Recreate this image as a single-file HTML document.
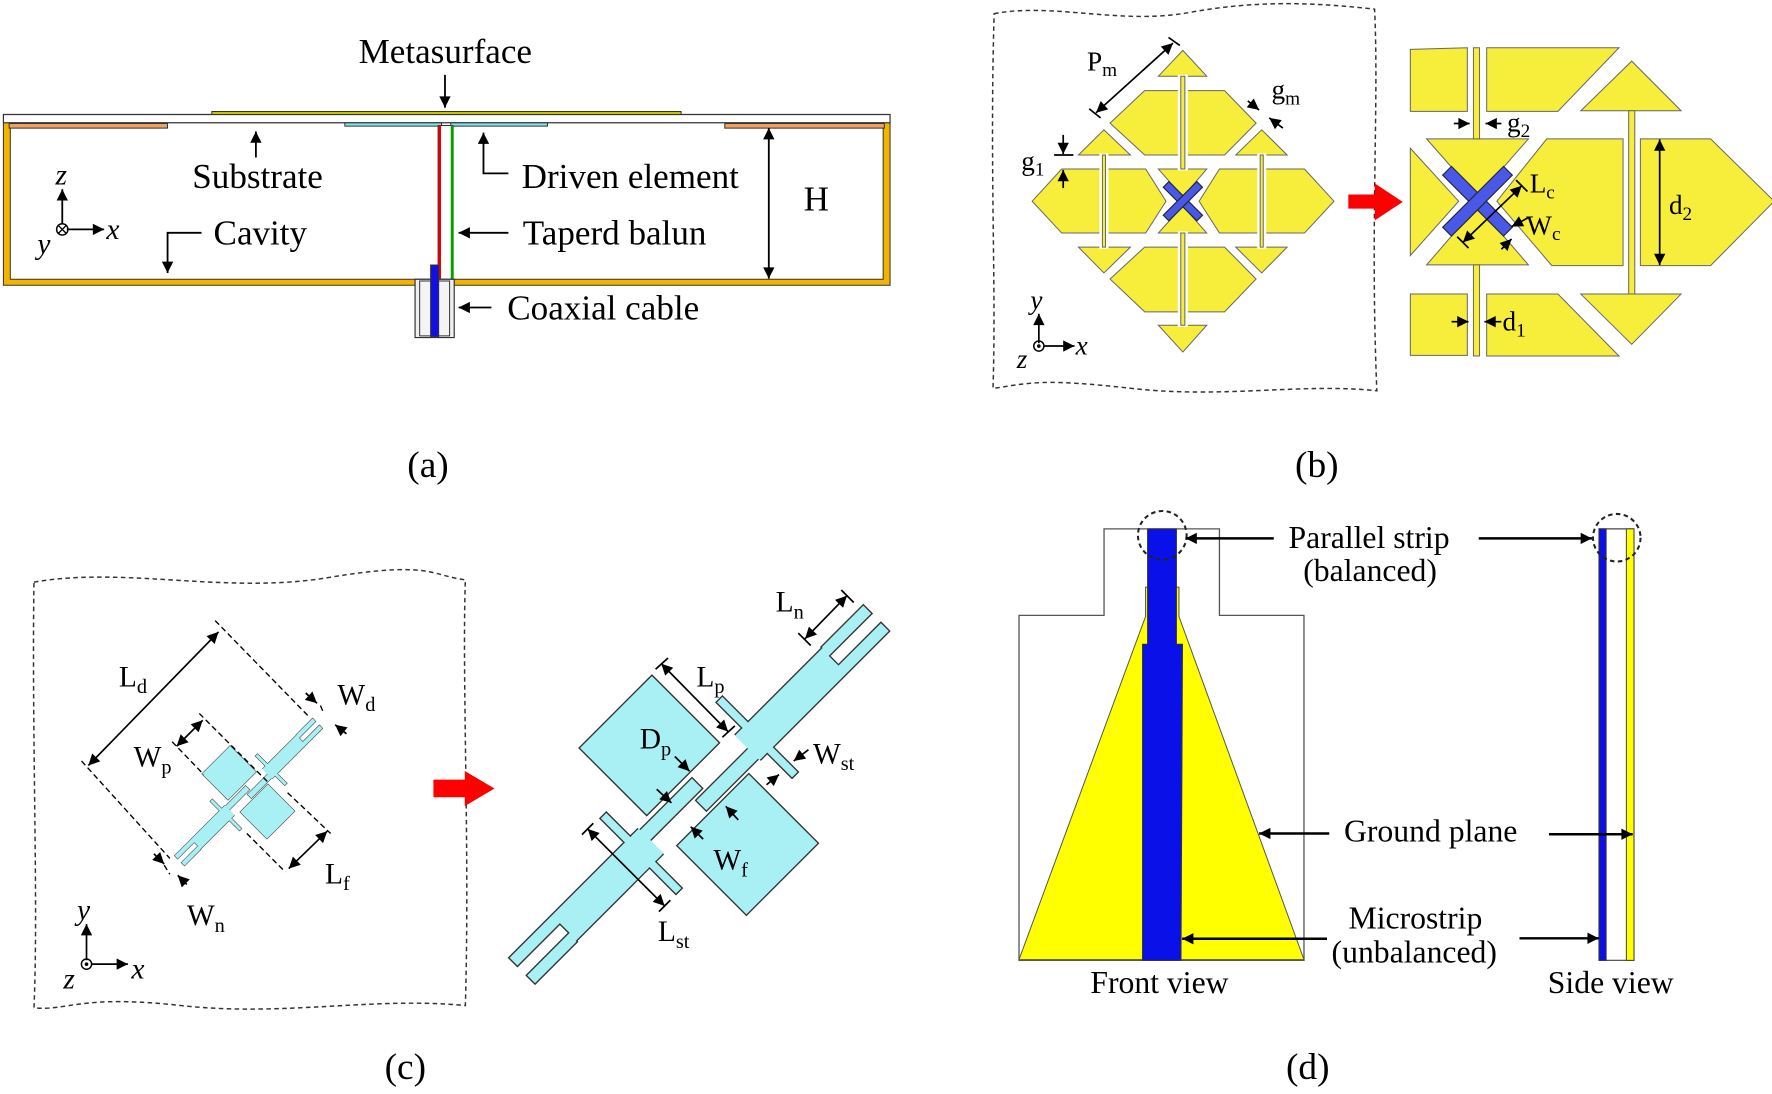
<!DOCTYPE html>
<html><head><meta charset="utf-8"><style>
html,body{margin:0;padding:0;background:#fff;}
svg{display:block;}
text{font-family:"Liberation Serif",serif;fill:#000;}
</style></head><body>
<svg width="1772" height="1094" viewBox="0 0 1565 966" xmlns="http://www.w3.org/2000/svg">
<defs>
<marker id="ah" viewBox="0 0 10 10" refX="10" refY="5" markerUnits="userSpaceOnUse" markerWidth="12" markerHeight="10" orient="auto-start-reverse"><path d="M0,0 L10,5 L0,10 z" fill="#000"/></marker>
<g id="dip">
 <g fill="#a8f0f4" stroke="#333" stroke-width="1.2">
  <rect x="-46" y="-104" width="91" height="84.5"/>
  <rect x="-46" y="18" width="90" height="87"/>
  <path d="M60,-15 L168,-15 L168,-16 L221,-16 L221,-5 L168,-5 L168,6 L221,6 L221,17 L60,17 Z"/>
  <path d="M-60,15 L-168,15 L-168,16 L-221,16 L-221,5 L-168,5 L-168,-6 L-221,-6 L-221,-17 L-60,-17 Z"/>
  <rect x="-6" y="1.5" width="66" height="13.5"/>
  <rect x="-60" y="-15" width="66" height="13.5"/>
  <rect x="68" y="-47" width="8" height="95"/>
  <rect x="-77" y="-47" width="8" height="95"/>
 </g>
 <g fill="#a8f0f4">
  <rect x="59" y="-14.3" width="20" height="30.6"/>
  <rect x="-79" y="-16.3" width="20" height="30.6"/>
  <rect x="67.5" y="-14.3" width="9" height="30.6"/>
 </g>
</g>
</defs>

<!-- ===== (a) ===== -->
<g transform="matrix(0.5085 0 0 0.294 0.46 -0.4)" stroke="#333" vector-effect="non-scaling-stroke">
 <rect x="5" y="345" width="1540" height="25" fill="#fff" stroke-width="1.2" vector-effect="non-scaling-stroke"/>
 <rect x="367" y="336" width="815" height="9" fill="#c8c400" stroke-width="1" vector-effect="non-scaling-stroke"/>
 <rect x="5" y="370" width="1540" height="488" fill="#f2b400" stroke-width="1" vector-effect="non-scaling-stroke"/>
 <rect x="17" y="370" width="1516" height="470" fill="#fff" stroke-width="1" vector-effect="non-scaling-stroke"/>
 <rect x="15" y="372" width="275" height="14" fill="#f0a060" stroke-width="1" vector-effect="non-scaling-stroke"/>
 <rect x="1258" y="372" width="277" height="14" fill="#f0a060" stroke-width="1" vector-effect="non-scaling-stroke"/>
 <rect x="598" y="370" width="168" height="10" fill="#80e4f0" stroke-width="1" vector-effect="non-scaling-stroke"/>
 <rect x="782" y="370" width="168" height="10" fill="#80e4f0" stroke-width="1" vector-effect="non-scaling-stroke"/>
 <rect x="760" y="378" width="26" height="462" fill="#fff" stroke-width="1" vector-effect="non-scaling-stroke"/>
 <rect x="760" y="378" width="5" height="462" fill="#e00000" stroke="none"/>
 <rect x="782" y="378" width="5" height="462" fill="#00a000" stroke="none"/>
 <rect x="720" y="840" width="68" height="175" fill="#f0f0f0" stroke-width="1.2" vector-effect="non-scaling-stroke"/>
 <rect x="728" y="845" width="52" height="165" fill="#f4f4f4" stroke-width="1" vector-effect="non-scaling-stroke"/>
 <rect x="747" y="797" width="14" height="215" fill="#1010e0" stroke-width="1" vector-effect="non-scaling-stroke"/>
</g>
<g stroke="#000" stroke-width="1.6" fill="none">
 <line x1="393" y1="66" x2="393" y2="95" marker-end="url(#ah)"/>
 <line x1="226" y1="139" x2="226" y2="116" marker-end="url(#ah)"/>
 <polyline points="449,153 427,153 427,117" marker-end="url(#ah)"/>
 <line x1="679" y1="113" x2="679" y2="246" marker-start="url(#ah)" marker-end="url(#ah)"/>
 <line x1="449" y1="205.5" x2="405" y2="205.5" marker-end="url(#ah)"/>
 <polyline points="178,205.5 148,205.5 148,241" marker-end="url(#ah)"/>
 <line x1="434" y1="271.5" x2="405" y2="271.5" marker-end="url(#ah)"/>
 <line x1="55" y1="198" x2="55" y2="167" marker-end="url(#ah)"/>
 <line x1="59" y1="202.5" x2="92" y2="202.5" marker-end="url(#ah)"/>
 <circle cx="55" cy="202.5" r="5" stroke-width="1.3"/>
 <path d="M51.5,199 L58.5,206 M58.5,199 L51.5,206" stroke-width="1.2"/>
</g>
<g font-size="31">
 <text x="316.7" y="55.5">Metasurface</text>
 <text x="169.8" y="166">Substrate</text>
 <text x="460.7" y="166">Driven element</text>
 <text x="461.7" y="216">Taperd balun</text>
 <text x="188.6" y="216">Cavity</text>
 <text x="448" y="282">Coaxial cable</text>
 <text x="709.8" y="186">H</text>
 <text x="49" y="163" font-size="26" font-style="italic">z</text>
 <text x="94" y="211" font-size="26" font-style="italic">x</text>
 <text x="33" y="224" font-size="26" font-style="italic">y</text>
 <text x="378" y="421" font-size="33" text-anchor="middle">(a)</text>
</g>

<!-- ===== (b) ===== -->
<path d="M878,12 C930,2 990,22 1050,11 S1160,2 1214,8 C1218,90 1210,200 1216,345 C1150,338 1080,352 1000,343 S910,338 877,343 C880,250 874,150 878,12 Z" fill="none" stroke="#333" stroke-width="1.3" stroke-dasharray="4,3"/>
<g transform="matrix(0.4495 0 0 0.296 868 0.6)" fill="#f6ee3a" stroke="#666" stroke-width="1" >
 <g vector-effect="non-scaling-stroke">
 <polygon points="393,148 440,225 345,225" vector-effect="non-scaling-stroke"/>
 <polygon points="318,268 475,268 537,365 475,460 318,460 250,365" vector-effect="non-scaling-stroke"/>
 <polygon points="238,385 290,460 188,460" vector-effect="non-scaling-stroke"/>
 <polygon points="548,385 598,460 497,460" vector-effect="non-scaling-stroke"/>
 <polygon points="155,502 320,502 360,598 320,693 155,693 97,598" vector-effect="non-scaling-stroke"/>
 <polygon points="465,502 632,502 690,598 632,693 465,693 425,598" vector-effect="non-scaling-stroke"/>
 <polygon points="345,502 440,502 393,585" vector-effect="non-scaling-stroke"/>
 <polygon points="393,612 440,693 345,693" vector-effect="non-scaling-stroke"/>
 <polygon points="188,735 290,735 238,812" vector-effect="non-scaling-stroke"/>
 <polygon points="497,735 598,735 548,812" vector-effect="non-scaling-stroke"/>
 <polygon points="318,735 475,735 537,830 475,928 318,928 250,830" vector-effect="non-scaling-stroke"/>
 <polygon points="345,968 440,968 393,1048" vector-effect="non-scaling-stroke"/>
 <rect x="386" y="225" width="14" height="277" stroke="#fff" stroke-width="3" vector-effect="non-scaling-stroke"/>
 <rect x="386" y="693" width="14" height="275" stroke="#fff" stroke-width="3" vector-effect="non-scaling-stroke"/>
 <rect x="232" y="460" width="12" height="275" stroke="#fff" stroke-width="3" vector-effect="non-scaling-stroke"/>
 <rect x="542" y="460" width="12" height="275" stroke="#fff" stroke-width="3" vector-effect="non-scaling-stroke"/>
 <rect x="389" y="225" width="8" height="277" stroke="#666" vector-effect="non-scaling-stroke"/>
 <rect x="389" y="693" width="8" height="275" stroke="#666" vector-effect="non-scaling-stroke"/>
 <rect x="235" y="460" width="6" height="275" stroke="#666" vector-effect="non-scaling-stroke"/>
 <rect x="545" y="460" width="6" height="275" stroke="#666" vector-effect="non-scaling-stroke"/>

 <polygon points="840,145 952,140 952,330 840,330" vector-effect="non-scaling-stroke"/>
 <polygon points="990,140 1250,140 1130,330 990,330" vector-effect="non-scaling-stroke"/>
 <polygon points="1275,180 1372,328 1175,328" vector-effect="non-scaling-stroke"/>
 <polygon points="1175,875 1372,875 1275,1025" vector-effect="non-scaling-stroke"/>
 <polygon points="872,412 1072,412 972,585" vector-effect="non-scaling-stroke"/>
 <polygon points="972,612 1072,788 872,788" vector-effect="non-scaling-stroke"/>
 <polygon points="840,440 935,598 840,760" vector-effect="non-scaling-stroke"/>
 <polygon points="1108,412 1258,412 1258,790 1118,790 1010,598" vector-effect="non-scaling-stroke"/>
 <polygon points="1292,412 1430,412 1555,598 1430,790 1292,790" vector-effect="non-scaling-stroke"/>
 <polygon points="840,875 952,875 952,1058 840,1058" vector-effect="non-scaling-stroke"/>
 <polygon points="990,875 1130,875 1250,1060 990,1060" vector-effect="non-scaling-stroke"/>
 <rect x="964" y="140" width="12" height="272" vector-effect="non-scaling-stroke"/>
 <rect x="964" y="788" width="12" height="272" vector-effect="non-scaling-stroke"/>
 <rect x="1269" y="328" width="12" height="547" vector-effect="non-scaling-stroke"/>
 </g>
</g>
<g fill="#4a58e8" stroke="#223" stroke-width="1">
 <g transform="translate(1044.7,177.6)"><rect x="-21" y="-3.5" width="42" height="7" transform="rotate(45)"/><rect x="-21" y="-3.5" width="42" height="7" transform="rotate(-45)"/></g>
 <g transform="translate(1304.9,177.6)"><rect x="-38" y="-5.5" width="76" height="11" transform="rotate(45)"/><rect x="-38" y="-5.5" width="76" height="11" transform="rotate(-45)"/></g>
</g>
<polygon points="1190.8,171.7 1214.2,171.7 1214.2,161.9 1238.9,178.2 1214.2,194.5 1214.2,184.1 1190.8,184.1" fill="#f00"/>
<g stroke="#000" stroke-width="1.5" fill="none">
 <line x1="1036" y1="38" x2="968" y2="99.5" marker-start="url(#ah)" marker-end="url(#ah)"/>
 <line x1="1032" y1="33" x2="1042" y2="40"/><line x1="962" y1="96" x2="972" y2="104"/>
 <line x1="1102" y1="89" x2="1112" y2="97" marker-end="url(#ah)"/>
 <line x1="1133" y1="113" x2="1121" y2="104" marker-end="url(#ah)"/>
 <line x1="931" y1="136.8" x2="948" y2="136.8"/>
 <line x1="939" y1="119" x2="939" y2="136" marker-end="url(#ah)"/>
 <line x1="939" y1="166" x2="939" y2="150" marker-end="url(#ah)"/>
 <line x1="917.5" y1="303" x2="917.5" y2="277" marker-end="url(#ah)"/>
 <line x1="922" y1="305.5" x2="949" y2="305.5" marker-end="url(#ah)"/>
 <circle cx="917.5" cy="305.5" r="4.5" stroke-width="1.3"/>
 <line x1="1284" y1="109" x2="1298" y2="109" marker-end="url(#ah)"/>
 <line x1="1326" y1="109" x2="1312" y2="109" marker-end="url(#ah)"/>
 <line x1="1292" y1="214" x2="1344" y2="164" marker-start="url(#ah)" marker-end="url(#ah)"/>
 <line x1="1287" y1="209" x2="1297" y2="219"/><line x1="1339" y1="159" x2="1349" y2="169"/>
 <line x1="1350" y1="192" x2="1335" y2="200" marker-end="url(#ah)"/>
 <line x1="1326" y1="220" x2="1335" y2="211" marker-end="url(#ah)"/>
 <line x1="1465.8" y1="123" x2="1465.8" y2="234" marker-start="url(#ah)" marker-end="url(#ah)"/>
 <line x1="1282" y1="284" x2="1297" y2="284" marker-end="url(#ah)"/>
 <line x1="1326" y1="284" x2="1311" y2="284" marker-end="url(#ah)"/>
</g>
<circle cx="917.5" cy="305.5" r="1.6" fill="#000"/>
<g font-size="24">
 <text x="960" y="62">P<tspan font-size="17" dy="5">m</tspan></text>
 <text x="1123" y="87">g<tspan font-size="17" dy="5">m</tspan></text>
 <text x="902" y="150">g<tspan font-size="17" dy="5">1</tspan></text>
 <text x="1331" y="116">g<tspan font-size="17" dy="5">2</tspan></text>
 <text x="1351" y="170">L<tspan font-size="17" dy="5">c</tspan></text>
 <text x="1348" y="207">W<tspan font-size="17" dy="5">c</tspan></text>
 <text x="1474" y="189">d<tspan font-size="17" dy="5">2</tspan></text>
 <text x="1327" y="292">d<tspan font-size="17" dy="5">1</tspan></text>
 <text x="910" y="273" font-style="italic">y</text>
 <text x="950" y="313" font-style="italic">x</text>
 <text x="898" y="325" font-style="italic">z</text>
 <text x="1163" y="421" font-size="33" text-anchor="middle">(b)</text>
</g>

<!-- ===== (c) ===== -->
<path d="M30,514 C110,500 200,525 290,510 S380,508 411,512 C408,600 415,750 411,888 C330,880 250,898 160,888 S60,893 30,890 C34,800 28,650 30,514 Z" fill="none" stroke="#333" stroke-width="1.3" stroke-dasharray="4,3"/>
<use href="#dip" transform="translate(617.5,701.5) rotate(-45)"/>
<use href="#dip" transform="translate(219.5,699.4) rotate(-45) scale(0.39)"/>
<polygon points="382.8,688.5 410.5,688.5 410.5,680.8 436.7,696.3 410.5,711.8 410.5,704 382.8,704" fill="#f00"/>
<g stroke="#000" stroke-width="1.5" fill="none">
 <line x1="711" y1="564" x2="748" y2="526" marker-start="url(#ah)" marker-end="url(#ah)"/>
 <line x1="705" y1="559" x2="716" y2="570"/><line x1="743" y1="521" x2="754" y2="532"/>
 <line x1="584" y1="586" x2="643" y2="646" marker-start="url(#ah)" marker-end="url(#ah)"/>
 <line x1="579" y1="591" x2="590" y2="581"/><line x1="638" y1="651" x2="649" y2="641"/>
 <line x1="596" y1="668" x2="609" y2="681" marker-end="url(#ah)"/>
 <line x1="580" y1="697" x2="593" y2="709" marker-end="url(#ah)"/>
 <line x1="714" y1="662" x2="701" y2="672" marker-end="url(#ah)"/>
 <line x1="677" y1="693" x2="688" y2="684" marker-end="url(#ah)"/>
 <line x1="652" y1="724" x2="641" y2="712" marker-end="url(#ah)"/>
 <line x1="621" y1="741" x2="610" y2="730" marker-end="url(#ah)"/>
 <line x1="519" y1="732" x2="587" y2="800" marker-start="url(#ah)" marker-end="url(#ah)"/>
 <line x1="514" y1="737" x2="524" y2="727"/><line x1="582" y1="805" x2="592" y2="795"/>

 <line x1="193" y1="558" x2="78" y2="676" marker-start="url(#ah)" marker-end="url(#ah)"/>
 <line x1="179" y1="636" x2="156" y2="659" marker-start="url(#ah)" marker-end="url(#ah)"/>
 <line x1="289" y1="734" x2="255" y2="767" marker-start="url(#ah)" marker-end="url(#ah)"/>
 <line x1="270" y1="612" x2="280" y2="621" marker-end="url(#ah)"/>
 <line x1="306" y1="648" x2="296" y2="640" marker-end="url(#ah)"/>
 <line x1="136" y1="754" x2="145" y2="763" marker-end="url(#ah)"/>
 <line x1="165" y1="781" x2="157" y2="773" marker-end="url(#ah)"/>
 <line x1="76.4" y1="848" x2="76.4" y2="816" marker-end="url(#ah)"/>
 <line x1="81" y1="851.4" x2="113" y2="851.4" marker-end="url(#ah)"/>
 <circle cx="76.4" cy="851.4" r="4.5" stroke-width="1.3"/>
 <g stroke-width="1.2" stroke-dasharray="5,3">
  <line x1="190" y1="548" x2="272" y2="632"/>
  <line x1="72" y1="672" x2="150" y2="758"/>
  <line x1="176" y1="630" x2="236" y2="690"/>
  <line x1="152" y1="655" x2="180" y2="684"/>
  <line x1="254" y1="700" x2="292" y2="736"/>
  <line x1="218" y1="736" x2="252" y2="770"/>
  <line x1="283" y1="623" x2="286" y2="630"/>
  <line x1="145" y1="764" x2="150" y2="772"/>
 </g>
</g>
<circle cx="76.4" cy="851.4" r="1.6" fill="#000"/>
<g font-size="26">
 <text x="685" y="540">L<tspan font-size="18" dy="6">n</tspan></text>
 <text x="615" y="606">L<tspan font-size="18" dy="6">p</tspan></text>
 <text x="565" y="661">D<tspan font-size="18" dy="6">p</tspan></text>
 <text x="718" y="674">W<tspan font-size="18" dy="6">st</tspan></text>
 <text x="630" y="768">W<tspan font-size="18" dy="6">f</tspan></text>
 <text x="581" y="831">L<tspan font-size="18" dy="6">st</tspan></text>
 <text x="105" y="606">L<tspan font-size="18" dy="6">d</tspan></text>
 <text x="118" y="677">W<tspan font-size="18" dy="6">p</tspan></text>
 <text x="298" y="622">W<tspan font-size="18" dy="6">d</tspan></text>
 <text x="287" y="780">L<tspan font-size="18" dy="6">f</tspan></text>
 <text x="165" y="817">W<tspan font-size="18" dy="6">n</tspan></text>
 <text x="68" y="812" font-style="italic">y</text>
 <text x="116" y="864" font-style="italic">x</text>
 <text x="56" y="873" font-style="italic">z</text>
 <text x="358" y="953" font-size="33" text-anchor="middle">(c)</text>
</g>

<!-- ===== (d) ===== -->
<g transform="matrix(0.447 0 0 0.3363 867.8 441.8)">
 <polygon points="322,228 388,228 388,305 635,1206 72,1206 322,305" fill="#ffff00" stroke="#555" stroke-width="1" vector-effect="non-scaling-stroke"/>
 <path d="M72,1208 L72,302 L240,302 L240,75 L468,75 L468,302 L635,302 L635,1208 Z" fill="none" stroke="#555" stroke-width="1.3" vector-effect="non-scaling-stroke"/>
 <polygon points="326,75 383,75 383,378 395,378 392,1208 316,1208 316,378 326,378" fill="#0a10e8" stroke="#333" stroke-width="1" vector-effect="non-scaling-stroke"/>
 <rect x="1218" y="75" width="69" height="1133" fill="#fff" stroke="#444" stroke-width="1.2" vector-effect="non-scaling-stroke"/>
 <rect x="1218" y="75" width="14" height="1133" fill="#0a10e8" stroke="#333" stroke-width="1" vector-effect="non-scaling-stroke"/>
 <rect x="1272" y="75" width="15" height="1133" fill="#ffff00" stroke="#444" stroke-width="1" vector-effect="non-scaling-stroke"/>
</g>
<g stroke="#222" stroke-width="1.8" fill="none" stroke-dasharray="4,3">
 <circle cx="1026.5" cy="472.7" r="21.5"/>
 <circle cx="1427.9" cy="474.8" r="21"/>
</g>
<g stroke="#000" stroke-width="2.2" fill="none">
 <line x1="1125" y1="475.4" x2="1047" y2="475.4" marker-end="url(#ah)"/>
 <line x1="1306" y1="475.4" x2="1406" y2="475.4" marker-end="url(#ah)"/>
 <line x1="1174" y1="736" x2="1112" y2="736" marker-end="url(#ah)"/>
 <line x1="1368" y1="736.7" x2="1442" y2="736.7" marker-end="url(#ah)"/>
 <line x1="1172" y1="829" x2="1044" y2="829" marker-end="url(#ah)"/>
 <line x1="1342" y1="828.6" x2="1412" y2="828.6" marker-end="url(#ah)"/>
</g>
<g font-size="28">
 <text x="1138" y="484">Parallel strip</text>
 <text x="1151" y="513">(balanced)</text>
 <text x="1187" y="743">Ground plane</text>
 <text x="1191" y="820">Microstrip</text>
 <text x="1176" y="850">(unbalanced)</text>
 <text x="963" y="877">Front view</text>
 <text x="1367" y="877">Side view</text>
 <text x="1155" y="953" font-size="33" text-anchor="middle">(d)</text>
</g>
</svg>
</body></html>
